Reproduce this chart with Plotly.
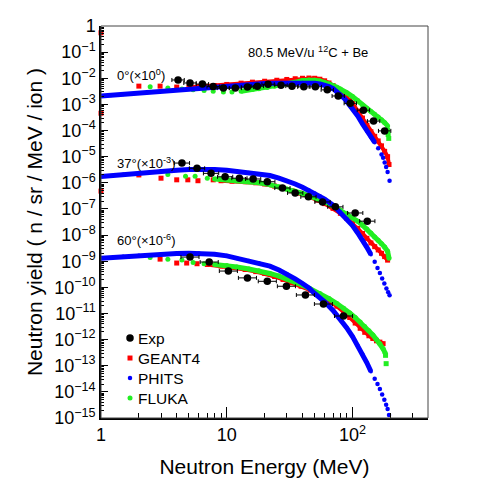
import numpy as np
import plotly.graph_objects as go

# ---- experimental data (0 deg x1, 37 deg x1e-3, 60 deg x1e-6) ----
exp_0_e = [4.1, 5.1, 6.4, 7.8, 9.4, 11.7, 14.6, 17.5, 21.3, 27, 33, 41, 50.6, 63, 77, 96, 122, 147, 180]
exp_0_y = [8.6e-3, 6.6e-3, 6.0e-3, 4.8e-3, 4.2e-3, 4.2e-3, 4.6e-3, 5.0e-3, 5.9e-3, 5.4e-3, 5.0e-3,
           4.7e-3, 4.7e-3, 3.6e-3, 2.1e-3, 1.1e-3, 6.0e-4, 2.3e-4, 9.7e-5]
exp_37_e = [4.4, 5.8, 7.5, 9.7, 12.6, 16.2, 21, 27.7, 35, 44.6, 57.7, 73, 105, 131]
exp_37_y = [5.7e-6, 3.6e-6, 2.3e-6, 1.7e-6, 1.5e-6, 1.4e-6, 1.1e-6, 6.3e-7, 4.1e-7, 2.9e-7, 1.85e-7,
            1.2e-7, 7.0e-8, 3.4e-8]
exp_60_e = [5.1, 7.25, 10.3, 14.6, 21, 29.8, 42.2, 58.7, 84.8]
exp_60_y = [1.44e-9, 9.3e-10, 4.2e-10, 2.3e-10, 1.7e-10, 1.1e-10, 5.1e-11, 2.3e-11, 8e-12]

# ---- GEANT4 ----
g4_edge_e = [1.0, 1.0, 1.0]
g4_edge_y = [0.55, 4.6e-4, 4.8e-7]
g4_0_low_e = [2.0, 2.95, 4.0]
g4_0_low_y = [5.0e-3, 5.0e-3, 4.6e-3]
g4_0_e = [5, 6, 8, 10, 13, 16, 20, 25, 30, 35, 40, 45, 50, 55, 60, 65, 70, 75, 80, 85, 90, 95, 100,
          110, 120, 130, 140, 150, 160, 170, 180, 190, 195]
g4_0_y = [4.5e-3, 4.8e-3, 5.3e-3, 5.8e-3, 6.5e-3, 7.1e-3, 7.7e-3, 8.4e-3, 9.0e-3, 9.6e-3, 1.0e-2,
          1.02e-2, 1.0e-2, 9.2e-3, 8.0e-3, 6.6e-3, 5.3e-3, 4.1e-3, 3.2e-3, 2.4e-3, 1.8e-3, 1.4e-3,
          1.1e-3, 5.5e-4, 3.0e-4, 1.6e-4, 9e-5, 6e-5, 4e-5, 2.6e-5, 1.6e-5, 1.0e-5, 5e-6]
g4_37_low_e = [2.0, 3.0, 4.0, 4.9, 5.9, 7.8]
g4_37_low_y = [2.0e-6, 1.5e-6, 1.3e-6, 1.3e-6, 1.2e-6, 1.3e-6]
g4_37_e = [9, 11, 14, 17, 20, 24, 28, 33, 38, 45, 52, 60, 70, 80, 90, 100, 110, 120, 130, 140, 150,
           160, 170, 180, 190]
g4_37_y = [1.2e-6, 1.15e-6, 1.1e-6, 1.0e-6, 9e-7, 7.5e-7, 6.2e-7, 5e-7, 4.0e-7, 3.0e-7, 2.2e-7,
           1.6e-7, 1.05e-7, 6.8e-8, 4.4e-8, 2.8e-8, 1.8e-8, 1.15e-8, 7.5e-9, 5e-9, 3.6e-9, 2.7e-9,
           2.0e-9, 1.5e-9, 1.1e-9]
g4_60_low_e = [2.95, 4.0, 4.8, 5.8]
g4_60_low_y = [1.2e-9, 8.5e-10, 8.5e-10, 8e-10]
g4_60_e = [7, 9, 11, 14, 17, 20, 24, 28, 33, 39, 46, 55, 65, 75, 85, 95, 105, 115, 125, 135, 145,
           155, 165, 175]
g4_60_y = [7.5e-10, 6.5e-10, 5.8e-10, 4.8e-10, 4.0e-10, 3.4e-10, 2.6e-10, 2.0e-10, 1.5e-10, 1.1e-10,
           7.8e-11, 5e-11, 3.1e-11, 1.9e-11, 1.15e-11, 7e-12, 4.3e-12, 2.7e-12, 1.9e-12, 1.4e-12,
           1.1e-12, 9e-13, 8e-13, 7e-13]

# ---- PHITS ----
ph_0_e = [1, 1.2, 1.5, 2, 2.5, 3, 4, 5, 6, 8, 10, 13, 16, 20, 25, 30, 35, 40, 45, 50, 55, 60, 65, 70,
          75, 80, 85, 90, 95, 100, 110, 120, 130, 140, 150]
ph_0_y = [2.1e-3, 2.25e-3, 2.45e-3, 2.75e-3, 3.0e-3, 3.25e-3, 3.65e-3, 4.0e-3, 4.3e-3, 4.8e-3, 5.2e-3,
          5.7e-3, 6.0e-3, 6.3e-3, 6.5e-3, 6.6e-3, 6.7e-3, 6.7e-3, 6.6e-3, 6.4e-3, 6.0e-3, 5.5e-3,
          4.8e-3, 4.0e-3, 3.1e-3, 2.4e-3, 1.8e-3, 1.3e-3, 9.5e-4, 6.8e-4, 3.6e-4, 1.8e-4, 9.5e-5,
          5.5e-5, 3.5e-5]
ph_0_tail_e = [160, 170, 175, 180, 185, 190, 197]
ph_0_tail_y = [2.1e-5, 1.2e-5, 9e-6, 6e-6, 4e-6, 2.6e-6, 1.2e-6]
ph_37_e = [1, 1.5, 2, 3, 4, 5, 6, 7, 8, 10, 12, 15, 18, 22, 26, 30, 35, 40, 45, 50, 55, 60, 70, 80,
           90, 100, 110, 120, 130, 140]
ph_37_y = [1.75e-6, 2.1e-6, 2.4e-6, 2.8e-6, 3.05e-6, 3.2e-6, 3.3e-6, 3.3e-6, 3.25e-6, 3.0e-6, 2.75e-6,
           2.4e-6, 2.15e-6, 1.9e-6, 1.5e-6, 1.2e-6, 9e-7, 6.8e-7, 5.2e-7, 4e-7, 3.1e-7, 2.4e-7,
           1.4e-7, 7.5e-8, 4.2e-8, 2.3e-8, 1.2e-8, 6.5e-9, 3.4e-9, 1.8e-9]
ph_37_tail_e = [150, 158, 165, 172, 179, 186, 192, 197]
ph_37_tail_y = [9.5e-10, 5.5e-10, 3.5e-10, 2.2e-10, 1.4e-10, 9e-11, 6.5e-11, 5e-11]
ph_60_e = [1, 1.5, 2, 3, 4, 5, 6, 8, 10, 12, 15, 18, 22, 26, 30, 35, 40, 45, 50, 60, 70, 80, 90, 100,
           110, 120, 130, 140]
ph_60_y = [1.3e-9, 1.5e-9, 1.65e-9, 1.85e-9, 1.95e-9, 2.0e-9, 2.0e-9, 1.85e-9, 1.6e-9, 1.3e-9,
           1.05e-9, 8.5e-10, 6.5e-10, 4.6e-10, 3.3e-10, 2.1e-10, 1.4e-10, 9.5e-11, 5.8e-11, 2.8e-11,
           1.3e-11, 6e-12, 2.8e-12, 1.3e-12, 6e-13, 2.8e-13, 1.3e-13, 6e-14]
ph_60_tail_e = [150, 158, 165, 172, 179, 185, 190, 195]
ph_60_tail_y = [3.2e-14, 2.0e-14, 1.3e-14, 8e-15, 5e-15, 3.2e-15, 2.2e-15, 1.3e-15]

# ---- FLUKA ----
fl_0_low_e = [2.46, 3.4, 4.4, 5.4, 6.6, 7.8, 9.4, 11]
fl_0_low_y = [4.7e-3, 4.2e-3, 3.9e-3, 3.6e-3, 3.4e-3, 3.2e-3, 3.0e-3, 3.0e-3]
fl_0_e = [13, 16, 18, 21, 24, 27, 31, 35, 40, 45, 50, 55, 60, 65, 70, 75, 80, 90, 100, 110, 120, 130,
          140, 150, 160, 170, 180, 190]
fl_0_y = [3.2e-3, 3.7e-3, 4.0e-3, 4.4e-3, 4.9e-3, 5.4e-3, 6.1e-3, 7.0e-3, 8.2e-3, 8.6e-3, 8.4e-3,
          7.9e-3, 7.1e-3, 6.2e-3, 5.3e-3, 4.5e-3, 3.9e-3, 2.8e-3, 2.0e-3, 1.4e-3, 9.5e-4, 7e-4,
          5.3e-4, 4.2e-4, 3.3e-4, 2.6e-4, 2.0e-4, 1.5e-4]
fl_0_tail_e = [190, 192, 194]
fl_0_tail_y = [1.0e-4, 7e-5, 5e-5]
fl_37_low_e = [3.4, 4.7, 5.6, 7.0]
fl_37_low_y = [2.1e-6, 1.8e-6, 1.8e-6, 1.5e-6]
fl_37_e = [8, 10, 12, 15, 18, 22, 26, 30, 35, 40, 46, 52, 60, 70, 80, 90, 100, 110, 120, 130, 140,
           150, 160, 170, 180, 190, 195]
fl_37_y = [1.4e-6, 1.3e-6, 1.2e-6, 1.1e-6, 1.0e-6, 8.5e-7, 7e-7, 5.8e-7, 4.7e-7, 3.9e-7, 3.1e-7,
           2.5e-7, 1.85e-7, 1.3e-7, 9e-8, 6.5e-8, 4.8e-8, 3.4e-8, 2.4e-8, 1.7e-8, 1.2e-8, 8.5e-9,
           6.3e-9, 4.7e-9, 3.5e-9, 2.4e-9, 1.3e-9]
fl_60_low_e = [2.46, 3.4, 4.4, 5.4, 6.6]
fl_60_low_y = [1.4e-9, 1.2e-9, 1.1e-9, 9e-10, 8e-10]
fl_60_e = [8, 10, 12, 15, 18, 22, 26, 30, 35, 40, 46, 55, 65, 75, 85, 95, 105, 115, 125, 135, 145,
           155, 165, 175, 182]
fl_60_y = [7.5e-10, 6.8e-10, 6e-10, 5e-10, 4.3e-10, 3.4e-10, 2.7e-10, 2.1e-10, 1.6e-10, 1.2e-10,
           8.8e-11, 5.8e-11, 3.7e-11, 2.4e-11, 1.6e-11, 1.05e-11, 7e-12, 4.7e-12, 3.2e-12, 2.2e-12,
           1.5e-12, 1.0e-12, 7e-13, 4.5e-13, 3e-13]
fl_60_tail_e = [183, 185]
fl_60_tail_y = [2.5e-13, 1.2e-13]

# ---- axes / legend ----
x_tick_vals = [1, 10, 100]
x_tick_text = ["1", "10", "10<sup>2</sup>"]
y_tick_vals = [10.0 ** -k for k in range(16)]
y_tick_text = ["1"] + ["10<sup>\u2212%d</sup>" % k for k in range(1, 16)]
x_minor = [m * 10 ** k for k in range(3) for m in range(2, 10) if m * 10 ** k < 430]
y_minor = [m * 10.0 ** -k for k in range(1, 16) for m in range(2, 10)]
legend_names = ["Exp", "GEANT4", "PHITS", "FLUKA"]

RED, BLUE, GREEN = "#ff0000", "#0000ff", "#22ee22"

fig = go.Figure()


def add_band(e, y, color, width, size, symbol="circle"):
    fig.add_trace(go.Scatter(x=e, y=y, mode="lines+markers", line=dict(color=color, width=width),
                             marker=dict(color=color, size=size, symbol=symbol), hoverinfo="skip"))


def add_dots(e, y, color, size, symbol="circle", clip=True):
    fig.add_trace(go.Scatter(x=e, y=y, mode="markers", cliponaxis=clip,
                             marker=dict(color=color, size=size, symbol=symbol)))


# GEANT4
add_dots(g4_edge_e, g4_edge_y, RED, 5, "square", clip=False)
for e, y in [(g4_0_e, g4_0_y), (g4_37_e, g4_37_y), (g4_60_e, g4_60_y)]:
    add_band(e, y, RED, 4, 5, "square")
for e, y in [(g4_0_low_e, g4_0_low_y), (g4_37_low_e, g4_37_low_y), (g4_60_low_e, g4_60_low_y)]:
    add_dots(e, y, RED, 5, "square")

# FLUKA
for e, y in [(fl_0_e, fl_0_y), (fl_37_e, fl_37_y), (fl_60_e, fl_60_y)]:
    add_band(e, y, GREEN, 5, 5)
for e, y in [(fl_0_low_e, fl_0_low_y), (fl_37_low_e, fl_37_low_y), (fl_60_low_e, fl_60_low_y)]:
    add_dots(e, y, GREEN, 5)
add_dots(fl_0_tail_e, fl_0_tail_y, GREEN, 5, "square")
add_dots(fl_60_tail_e, fl_60_tail_y, GREEN, 5, "square")

# PHITS
for e, y in [(ph_0_e, ph_0_y), (ph_37_e, ph_37_y), (ph_60_e, ph_60_y)]:
    add_band(e, y, BLUE, 5, 4)
for e, y in [(ph_0_tail_e, ph_0_tail_y), (ph_37_tail_e, ph_37_tail_y), (ph_60_tail_e, ph_60_tail_y)]:
    add_dots(e, y, BLUE, 4.5)

# Exp with horizontal error bars
for e, y, f in [(exp_0_e, exp_0_y, 1.12), (exp_37_e, exp_37_y, 1.15), (exp_60_e, exp_60_y, 1.18)]:
    e = np.array(e)
    fig.add_trace(go.Scatter(
        x=e, y=y, mode="markers", marker=dict(color="black", size=7.5),
        error_x=dict(type="data", symmetric=False, array=e * (f - 1), arrayminus=e * (1 - 1 / f),
                     color="black", thickness=1, width=2),
    ))

labels = [("0\u00b0(\u00d710<sup>0</sup>)", 0.875), ("37\u00b0(\u00d710<sup>-3</sup>)", 0.650),
          ("60\u00b0(\u00d710<sup>-6</sup>)", 0.454)]
for txt, yy in labels:
    fig.add_annotation(text=txt, xref="paper", yref="paper", x=0.043, y=yy, xanchor="left",
                       yanchor="middle", showarrow=False, font=dict(size=13))
fig.add_annotation(text="80.5 MeV/u <sup>12</sup>C + Be", xref="paper", yref="paper", x=0.633,
                   y=0.934, xanchor="center", yanchor="middle", showarrow=False, font=dict(size=13))

# legend drawn by hand (ROOT-style compact layout)
leg_style = [("circle", "black", 7.5), ("rect", RED, 5), ("circle", BLUE, 4.5), ("circle", GREEN, 5)]
for i, (name, (kind, col, sz)) in enumerate(zip(legend_names, leg_style)):
    yy = 0.204 - i * 0.051
    r = sz / 2
    fig.add_shape(type=kind, xref="paper", yref="paper", xsizemode="pixel", ysizemode="pixel",
                  xanchor=0.0887, yanchor=yy, x0=-r, x1=r, y0=-r, y1=r,
                  fillcolor=col, line=dict(color=col, width=0))
    fig.add_annotation(text=name, xref="paper", yref="paper", x=0.107, y=yy, xanchor="left",
                       yanchor="middle", showarrow=False, font=dict(size=15.5))

fig.add_shape(type="rect", xref="paper", yref="paper", x0=0, x1=1, y0=0, y1=1,
              line=dict(color="#444444", width=1))

# the page body adds an 8px offset, so the figure is drawn 8px smaller
fig.update_layout(
    width=482, height=492,
    margin=dict(l=93, r=62, t=18, b=82),
    paper_bgcolor="white", plot_bgcolor="white",
    font=dict(family="Liberation Sans, Arial, sans-serif", color="black"),
    showlegend=False,
)
fig.update_xaxes(
    type="log", range=[0, 2.6], tickmode="array", tickvals=x_tick_vals, ticktext=x_tick_text,
    ticks="inside", ticklen=11, tickcolor="black", tickfont=dict(size=18), automargin=False,
    showline=True, linecolor="black", linewidth=1.5, showgrid=False, zeroline=False,
    minor=dict(tickmode="array", tickvals=x_minor, ticks="inside", ticklen=5, tickcolor="black",
               showgrid=False),
    title=dict(text="Neutron Energy (MeV)", font=dict(size=21), standoff=15),
)
fig.update_yaxes(
    type="log", range=[-15, 0], tickmode="array", tickvals=y_tick_vals, ticktext=y_tick_text,
    ticks="inside", ticklen=7, tickcolor="black", tickfont=dict(size=18), automargin=False,
    showline=True, linecolor="black", linewidth=1.5, showgrid=False, zeroline=False,
    minor=dict(tickmode="array", tickvals=y_minor, ticks="inside", ticklen=3.5, tickcolor="black",
               showgrid=False),
    title=dict(text="Neutron yield ( n / sr / MeV / ion )", font=dict(size=21), standoff=6),
)

fig.write_html("out.html")
